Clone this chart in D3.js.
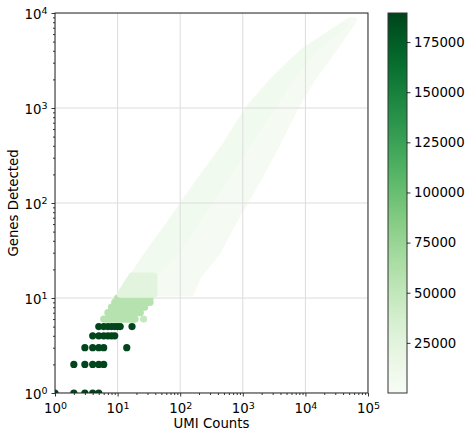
<!DOCTYPE html>
<html>
<head>
<meta charset="utf-8">
<script src="https://cdn.jsdelivr.net/npm/d3@7"></script>
<style>
  body { margin: 0; background: #fff; }
  text { font-family: "DejaVu Sans", sans-serif; fill: #000; }
</style>
</head>
<body>
<div id="wrapper"></div>
<script>
// dark points (low UMI droplets), one list per genes value
const darkGenes = [1, 2, 3, 4, 5];
const darkUmi = [
    [1, 2, 3, 4, 5],
    [2, 3, 4, 5, 6],
    [3, 4, 5, 6, 14],
    [4, 5, 6, 7, 8, 9],
    [5, 6, 7, 8, 9, 10, 11, 17],
];
const darkCount = 189000;

// dense rows of overlapping dots: genes, first and last UMI, count
const rowGenes = [6, 7, 8, 9, 10, 11, 12, 13, 14, 15, 16, 17];
const rowLo = [6, 7, 8, 9, 10, 11, 12, 13, 14, 15, 16, 17];
const rowHi = [19, 23, 27, 33, 33, 38, 38, 38, 38, 38, 38, 38];
const rowCount = [58000, 58000, 58000, 58000, 58000, 24000, 24000, 24000, 24000, 24000, 24000, 24000];

// single light points
const soloUmi = [26];
const soloGenes = [6];
const soloCount = [48000];

// faint diagonal band (outer edge)
const outerGenes = [11, 17, 30, 60, 100, 200, 400, 1000, 2000, 4000, 8500];
const outerLo = [38, 17, 30, 65, 110, 230, 500, 1200, 3000, 9000, 50000];
const outerHi = [150, 200, 400, 700, 1100, 2000, 3500, 7000, 13000, 28000, 62000];
const outerCount = 2500;

// denser core of the band
const innerGenes = [17, 30, 60, 100, 200, 400, 1000, 2000, 4000, 7500];
const innerLo = [17, 30, 65, 115, 240, 520, 1250, 3100, 9000, 40000];
const innerHi = [40, 90, 180, 300, 600, 1200, 3000, 6000, 14000, 45000];
const innerCount = 7500;

const xMajor = [1, 10, 100, 1000, 10000, 100000];
const yMajor = [1, 10, 100, 1000, 10000];
const cbTicks = [25000, 50000, 75000, 100000, 125000, 150000, 175000];

const width = 474, height = 439;
const plot = { left: 55, top: 13, right: 368, bottom: 393 };
const cb = { left: 388, width: 19 };
const dotR = 3.6;

const svg = d3.select("#wrapper").append("svg")
    .attr("width", width)
    .attr("height", height);

svg.append("rect").attr("width", width).attr("height", height).attr("fill", "#fff");

const x = d3.scaleLog().domain([1, 1e5]).range([plot.left, plot.right]);
const y = d3.scaleLog().domain([1, 1e4]).range([plot.bottom, plot.top]);
const color = d3.scaleSequential(d3.interpolateGreens).domain([1, 189500]);

svg.append("clipPath").attr("id", "clip")
    .append("rect")
    .attr("x", plot.left).attr("y", plot.top)
    .attr("width", plot.right - plot.left).attr("height", plot.bottom - plot.top);

const inner = svg.append("g").attr("clip-path", "url(#clip)");

// band areas
const area = d3.area()
    .y((d) => y(d.g))
    .x0((d) => x(d.lo))
    .x1((d) => x(d.hi));

const outer = outerGenes.map((g, i) => ({ g: g, lo: outerLo[i], hi: outerHi[i] }));
const core = innerGenes.map((g, i) => ({ g: g, lo: innerLo[i], hi: innerHi[i] }));

inner.append("path").attr("d", area(outer))
    .attr("fill", color(outerCount))
    .attr("stroke", color(outerCount)).attr("stroke-width", 5).attr("stroke-linejoin", "round");
inner.append("path").attr("d", area(core))
    .attr("fill", color(innerCount))
    .attr("stroke", color(innerCount)).attr("stroke-width", 4).attr("stroke-linejoin", "round");

// grid
const grid = inner.append("g").attr("stroke", "#dcdcdc").attr("stroke-width", 1);
grid.selectAll(".gx").data(xMajor).join("line")
    .attr("x1", (d) => x(d)).attr("x2", (d) => x(d))
    .attr("y1", plot.top).attr("y2", plot.bottom);
grid.selectAll(".gy").data(yMajor).join("line")
    .attr("y1", (d) => y(d)).attr("y2", (d) => y(d))
    .attr("x1", plot.left).attr("x2", plot.right);

// dense rows drawn as runs of dots
inner.selectAll(".row").data(rowGenes).join("line")
    .attr("x1", (d, i) => x(rowLo[i])).attr("x2", (d, i) => x(rowHi[i]))
    .attr("y1", (d) => y(d)).attr("y2", (d) => y(d))
    .attr("stroke", (d, i) => color(rowCount[i]))
    .attr("stroke-width", dotR * 2)
    .attr("stroke-linecap", "round");

inner.selectAll(".solo").data(soloUmi).join("circle")
    .attr("cx", (d) => x(d)).attr("cy", (d, i) => y(soloGenes[i]))
    .attr("r", dotR).attr("fill", (d, i) => color(soloCount[i]));

const darkPts = darkGenes.flatMap((g, i) => darkUmi[i].map((u) => [u, g]));
inner.selectAll(".dark").data(darkPts).join("circle")
    .attr("cx", (d) => x(d[0])).attr("cy", (d) => y(d[1]))
    .attr("r", dotR).attr("fill", color(darkCount));

// axes
function supLabel(sel, anchor) {
    sel.each(function (d) {
        const t = d3.select(this).text(null).attr("text-anchor", anchor);
        t.append("tspan").text("10");
        t.append("tspan").attr("dy", "-0.45em").attr("font-size", "9.5px").text(Math.round(Math.log10(d)));
    });
}

const xAxis = svg.append("g").attr("transform", `translate(0,${plot.bottom})`);
xAxis.call(d3.axisBottom(x).tickValues(x.ticks().filter((v) => !xMajor.includes(v))).tickSize(2).tickFormat(""));
xAxis.call((g) => g.select(".domain").remove());
const xAxisMaj = svg.append("g").attr("transform", `translate(0,${plot.bottom})`)
    .call(d3.axisBottom(x).tickValues(xMajor).tickSize(3.5).tickPadding(4));
xAxisMaj.select(".domain").remove();
xAxisMaj.selectAll("text").attr("font-size", "13.3px").attr("dy", "0.95em").call(supLabel, "middle");

const yAxis = svg.append("g").attr("transform", `translate(${plot.left},0)`);
yAxis.call(d3.axisLeft(y).tickValues(y.ticks().filter((v) => !yMajor.includes(v))).tickSize(2).tickFormat(""));
yAxis.call((g) => g.select(".domain").remove());
const yAxisMaj = svg.append("g").attr("transform", `translate(${plot.left},0)`)
    .call(d3.axisLeft(y).tickValues(yMajor).tickSize(3.5).tickPadding(4));
yAxisMaj.select(".domain").remove();
yAxisMaj.selectAll("text").attr("font-size", "13.3px").attr("dy", "0.38em").call(supLabel, "end");

svg.selectAll(".tick line").attr("stroke", "#000").attr("stroke-width", 0.8);

svg.append("rect")
    .attr("x", plot.left).attr("y", plot.top)
    .attr("width", plot.right - plot.left).attr("height", plot.bottom - plot.top)
    .attr("fill", "none").attr("stroke", "#222").attr("stroke-width", 1);

svg.append("text")
    .attr("x", (plot.left + plot.right) / 2).attr("y", 428)
    .attr("text-anchor", "middle").attr("font-size", "13.3px")
    .text("UMI Counts");

svg.append("text")
    .attr("transform", `translate(18,${(plot.top + plot.bottom) / 2}) rotate(-90)`)
    .attr("text-anchor", "middle").attr("font-size", "13.3px")
    .text("Genes Detected");

// colorbar
const cbScale = d3.scaleLinear().domain(color.domain()).range([plot.bottom, plot.top]);
const grad = svg.append("defs").append("linearGradient")
    .attr("id", "cbgrad").attr("x1", 0).attr("y1", 1).attr("x2", 0).attr("y2", 0);
grad.selectAll("stop").data(d3.range(0, 1.0001, 0.05)).join("stop")
    .attr("offset", (d) => d)
    .attr("stop-color", (d) => d3.interpolateGreens(d));

svg.append("rect")
    .attr("x", cb.left).attr("y", plot.top)
    .attr("width", cb.width).attr("height", plot.bottom - plot.top)
    .attr("fill", "url(#cbgrad)").attr("stroke", "#333").attr("stroke-width", 1);

const cbAxis = svg.append("g").attr("transform", `translate(${cb.left + cb.width},0)`)
    .call(d3.axisRight(cbScale).tickValues(cbTicks).tickSize(3.5).tickPadding(3.5).tickFormat(d3.format("d")));
cbAxis.select(".domain").remove();
cbAxis.selectAll("text").attr("font-size", "13.3px");
cbAxis.selectAll(".tick line").attr("stroke", "#000").attr("stroke-width", 0.8);
</script>
</body>
</html>
